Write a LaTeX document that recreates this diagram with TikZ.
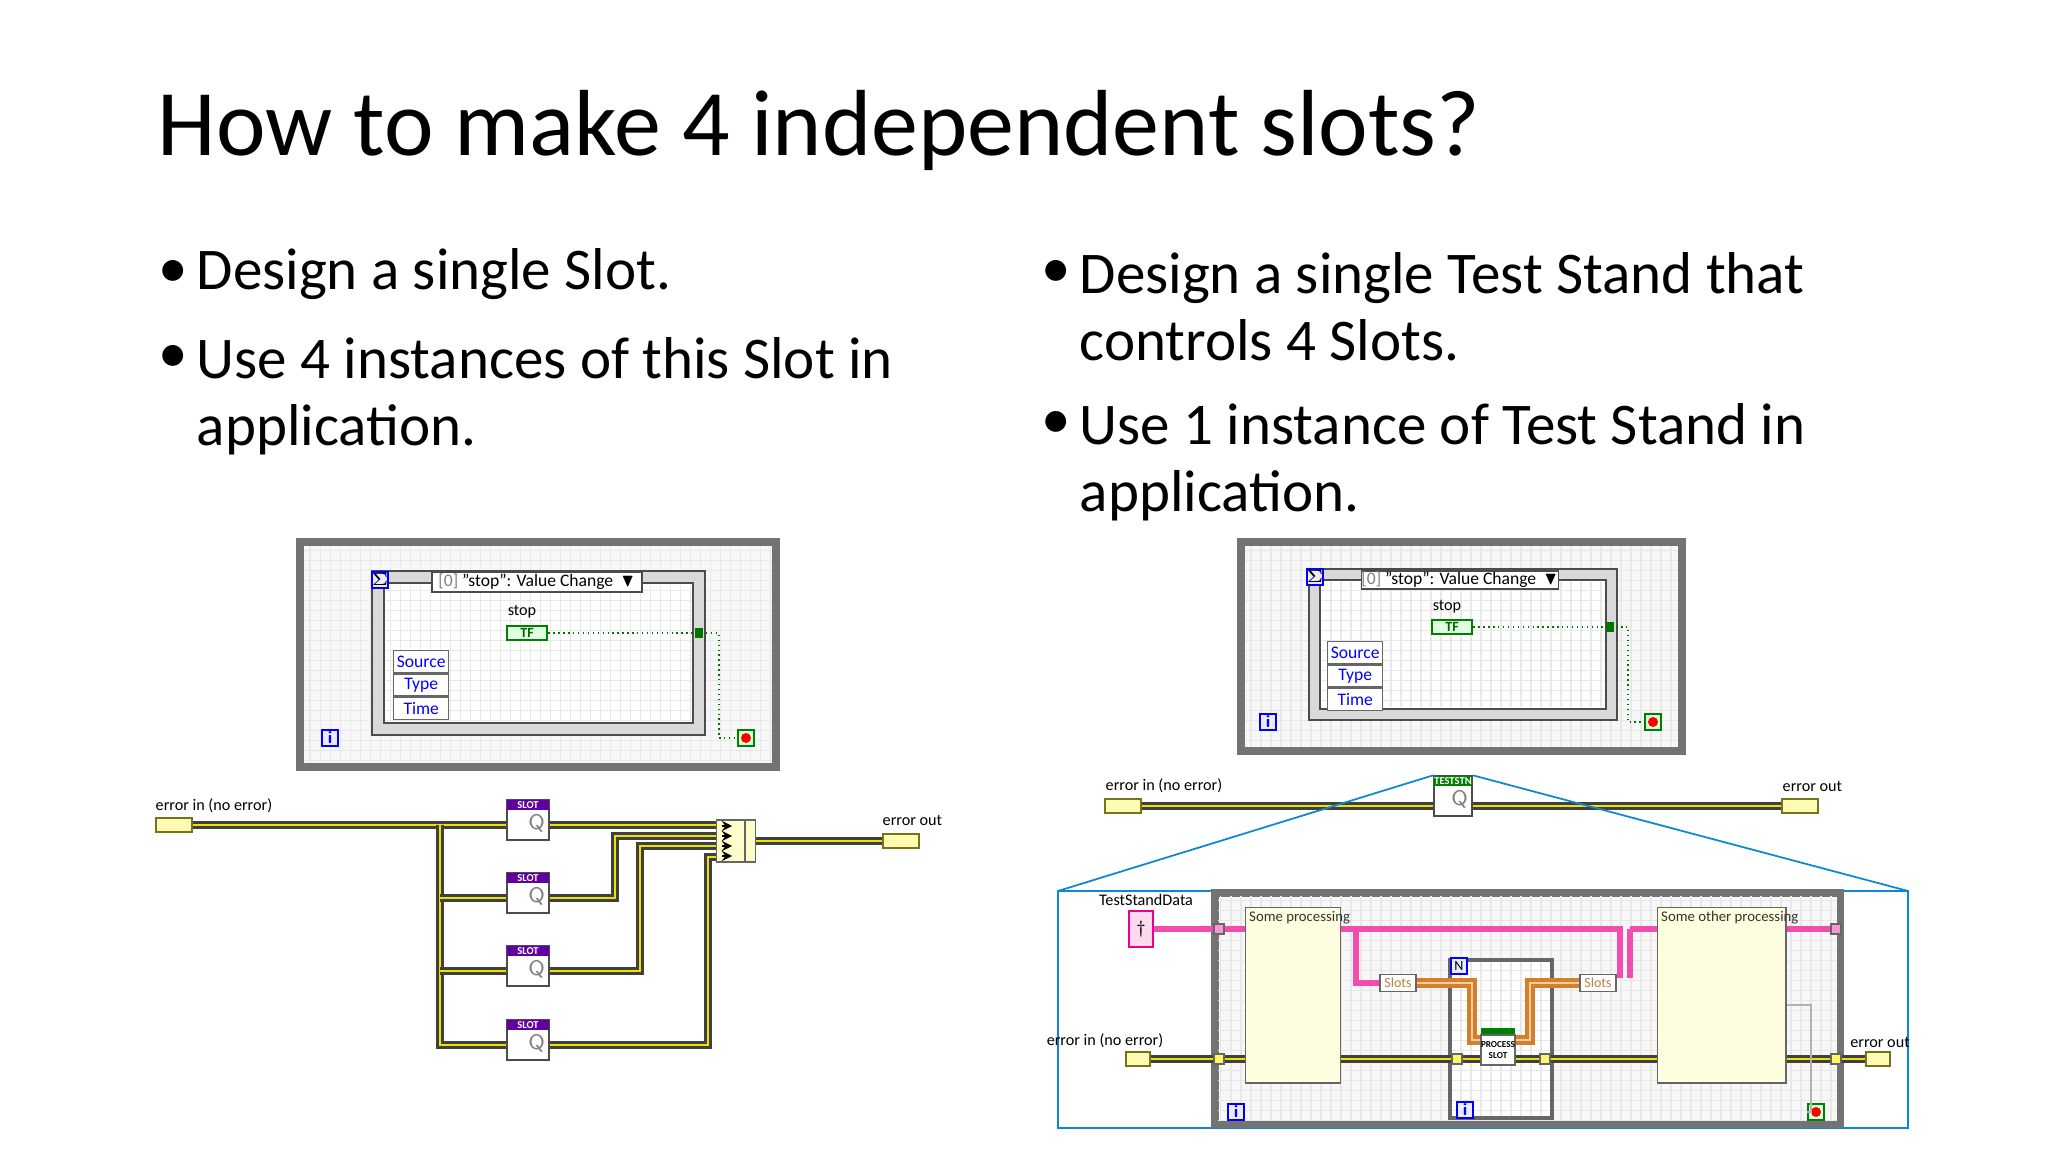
\documentclass[tikz,border=0pt]{standalone}
\usepackage{amssymb}
\usepackage{fontspec}
\setmainfont{Carlito}
\usetikzlibrary{positioning}
\tikzset{
  frame/.style={draw=black!55, line width=2.2pt, fill=gray!6},
  lbl/.style={font=\fontsize{4.6}{5.5}\selectfont, inner sep=0pt},
  errwire/.style={draw=black!75, line width=1pt, double=yellow!85!olive, double distance=0.55pt},
  pinkwire/.style={draw=magenta!70, line width=1.6pt},
  orwire/.style={draw=brown!70!orange, line width=1.3pt, double=orange!40, double distance=0.4pt},
  boolwire/.style={draw=green!45!black, densely dotted, line width=0.4pt},
  cluster/.style={draw=olive!80!black, fill=yellow!30, line width=0.6pt, minimum width=0.36cm, minimum height=0.14cm, inner sep=0pt, font=\fontsize{3}{3}\selectfont},
  slotvi/.style={draw=black!70, fill=white, minimum width=0.42cm, minimum height=0.4cm, inner sep=1pt, font=\fontsize{6}{6}\selectfont\sffamily\color{gray}, align=right, text width=0.34cm},
  slothead/.style={fill=violet!75!blue, text=white, minimum width=0.42cm, minimum height=0.1cm, inner sep=0pt, font=\fontsize{3}{3}\selectfont\bfseries},
  iter/.style={draw=blue, line width=0.6pt, fill=blue!8, minimum size=0.16cm, inner sep=0pt, font=\fontsize{5}{5}\selectfont\sffamily\bfseries\color{blue}},
  stopbtn/.style={draw=green!50!black, fill=green!15, minimum size=0.16cm, inner sep=0pt, path picture={\fill[red] (path picture bounding box.center) circle (0.05cm);}},
  tfnode/.style={draw=green!50!black, line width=0.8pt, fill=green!12, minimum width=0.4cm, minimum height=0.14cm, inner sep=0pt, font=\fontsize{4}{4}\selectfont\bfseries\color{green!40!black}},
  evlist/.style={draw=black!60, fill=white, minimum width=0.55cm, minimum height=0.22cm, inner sep=0pt, font=\fontsize{5}{5}\selectfont\color{blue}},
  procbox/.style={draw=black!60, fill=yellow!12, anchor=north west, inner sep=0pt},
  proctext/.style={anchor=north west, inner sep=1pt, font=\fontsize{4.2}{5}\selectfont\color{black!80}},
  tunnel/.style={draw=black!60, fill=#1, minimum size=0.1cm, inner sep=0pt},
  bullet/.style={anchor=west, font=\fontsize{16.8}{19}\selectfont, align=left, inner sep=0pt}
}
\begin{document}
\begin{tikzpicture}[x=0.01cm, y=-0.01cm]
\useasboundingbox (0,0) rectangle (2048,1152);
\fill[white] (0,0) rectangle (2048,1152);
% title and bullets
\node[anchor=west, font=\fontsize{26.7}{30}\selectfont, inner sep=0pt] (title) at (157,130) {How to make 4 independent slots?};
\node[bullet] (b1) at (158,274) {\textbullet};
\node[bullet] (t1) at (196,274) {Design a single Slot.};
\node[bullet] (b2) at (158,359) {\textbullet};
\node[bullet, anchor=north west] (t2) at (196,337) {Use 4 instances of this Slot in\\application.};
\node[bullet] (b3) at (1041,274) {\textbullet};
\node[bullet, anchor=north west] (t3) at (1079,252) {Design a single Test Stand that\\controls 4 Slots.};
\node[bullet] (b4) at (1041,425) {\textbullet};
\node[bullet, anchor=north west] (t4) at (1079,403) {Use 1 instance of Test Stand in\\application.};

% ---- left while loop
\draw[frame] (300,542) rectangle (776,767);
\draw[gray!18, step=0.1cm] (304,546) grid (772,763);
\fill[gray!30] (372,571) rectangle (705,735);
\draw[fill=white, draw=black!70] (384,583) rectangle (693,723);
\draw[draw=black!70] (372,571) rectangle (705,735);
\draw[gray!18, step=0.1cm] (386,585) grid (691,721);
\node[draw=black!70, fill=white, minimum width=2.1cm, minimum height=0.2cm, inner sep=0pt, font=\fontsize{5}{5}\selectfont] (hdrL) at (537,582) {{\color{gray}[0]} "stop": Value Change \,$\blacktriangledown$};
\node[iter, font=\fontsize{4}{4}\selectfont] (hgL) at (380,580) {$\Sigma$};
\node[lbl] (stopL) at (522,612) {stop};
\node[tfnode] (tfL) at (527,633) {TF};
\node[evlist, anchor=north west] (srcL) at (393,650) {Source};
\node[evlist, below=0pt of srcL] (typL) {Type};
\node[evlist, below=0pt of typL] (timL) {Time};
\fill[green!45!black] (695,628) rectangle (703,638);
\coordinate (termL) at (699,633);
\node[iter] (iL) at (330,738) {i};
\node[stopbtn] (sbL) at (746,738) {};
\draw[boolwire] (tfL.east) -- (termL) -- (719,633) |- (sbL.west);

% ---- left error chain
\node[lbl, anchor=west] (einL) at (155,806) {error in (no error)};
\node[cluster] (ecinL) at (174,825) {};
\node[slotvi] (s1) at (528,820) {\\Q};
\node[slotvi] (s2) at (528,893) {\\Q};
\node[slotvi] (s3) at (528,966) {\\Q};
\node[slotvi] (s4) at (528,1040) {\\Q};
\foreach \s in {s1,s2,s3,s4}
  \node[slothead, anchor=north] at (\s.north) {SLOT};
\node[draw=black!60, fill=yellow!20, minimum width=0.39cm, minimum height=0.42cm, inner sep=0pt] (merge) at (736,841) {};
\node[cluster] (ecoutL) at (901,841) {};
\node[lbl, anchor=west] (eoutL) at (882,820) {error out};
\coordinate (jL) at (440,825);
\draw[errwire] (ecinL.east) -- (s1.west |- jL);
\draw[errwire] (jL) |- (s4.west |- 0,1045);
\draw[errwire] (jL |- 0,898) -- (s2.west |- 0,898);
\draw[errwire] (jL |- 0,971) -- (s3.west |- 0,971);
\draw[errwire] (s1.east |- 0,825) -- (merge.west |- 0,825);
\draw[errwire] (s2.east |- 0,898) -| (615,836) -- (merge.west |- 0,836);
\draw[errwire] (s3.east |- 0,971) -| (640,846) -- (merge.west |- 0,846);
\draw[errwire] (s4.east |- 0,1045) -| (708,857) -- (merge.west |- 0,857);
\draw[errwire] (merge.east) -- (ecoutL.west);
\foreach \y in {826,836,846,856} \draw[black, line width=0.3pt, -stealth] (722,\y) -- (732,\y);
\draw[black!60] (745,821) -- (745,862);

% ---- right while loop
\draw[frame] (1241,542) rectangle (1682,751);
\draw[gray!18, step=0.1cm] (1245,546) grid (1678,747);
\fill[gray!30] (1309,569) rectangle (1617,720);
\draw[fill=white, draw=black!70] (1320,580) rectangle (1606,709);
\draw[draw=black!70] (1309,569) rectangle (1617,720);
\draw[gray!18, step=0.1cm] (1322,582) grid (1604,707);
\node[draw=black!70, fill=white, minimum width=1.95cm, minimum height=0.18cm, inner sep=0pt, font=\fontsize{5}{5}\selectfont] (hdrR) at (1460,580) {{\color{gray}[0]} "stop": Value Change \,$\blacktriangledown$};
\node[iter, font=\fontsize{4}{4}\selectfont] (hgR) at (1315,577) {$\Sigma$};
\node[lbl] (stopR) at (1447,607) {stop};
\node[tfnode] (tfR) at (1452,627) {TF};
\node[evlist, anchor=north west] (srcR) at (1327,641) {Source};
\node[evlist, below=0pt of srcR] (typR) {Type};
\node[evlist, below=0pt of typR] (timR) {Time};
\fill[green!45!black] (1606,622) rectangle (1614,632);
\coordinate (termR) at (1610,627);
\node[iter] (iR) at (1268,722) {i};
\node[stopbtn] (sbR) at (1653,722) {};
\draw[boolwire] (tfR.east) -- (termR) -- (1628,627) |- (sbR.west);

% ---- right error chain
\node[lbl, anchor=west] (einR) at (1105,786) {error in (no error)};
\node[cluster] (ecinR) at (1123,806) {};
\node[slotvi, minimum width=0.38cm, text width=0.3cm] (ts) at (1453,796) {\\Q};
\node[slothead, anchor=north, fill=green!50!black, minimum width=0.38cm] (tsh) at (ts.north) {TESTSTN};
\node[cluster] (ecoutR) at (1800,806) {};
\node[lbl, anchor=west] (eoutR) at (1782,786) {error out};
\draw[errwire] (ecinR.east) -- (ts.west |- ecinR);
\draw[errwire] (ts.east |- ecoutR) -- (ecoutR.west);
\coordinate (zl) at (1058,891);
\coordinate (zr) at (1908,891);
\draw[cyan!70!blue, line width=0.5pt] (zl) -- (ts.north west) (ts.north east) -- (zr);
\draw[cyan!70!blue, line width=0.7pt] (zl) rectangle (1908,1128);

% ---- zoomed test stand
\draw[draw=black!55, line width=2pt, fill=gray!6] (1215,893) rectangle (1840,1124);
\draw[gray!18, step=0.1cm] (1218,896) grid (1837,1121);
\node[procbox, minimum width=0.95cm, minimum height=1.75cm] (proc1) at (1245,907) {};
\node[proctext] (pt1t) at (proc1.north west) {Some processing};
\node[procbox, minimum width=1.28cm, minimum height=1.75cm] (proc2) at (1657,907) {};
\node[proctext] (pt2t) at (proc2.north west) {Some other processing};
\node[lbl, anchor=south] (tsdl) at (1146,906) {TestStandData};
\node[draw=magenta, fill=magenta!15, minimum width=0.24cm, minimum height=0.36cm, inner sep=0pt, font=\fontsize{4}{4}\selectfont] (tsd) at (1141,929) {$\dagger$};
\node[tunnel=magenta!40] (pt1) at (1219,929) {};
\node[tunnel=magenta!40] (pt2) at (1836,929) {};
\node[draw=black!60, fill=white, minimum width=0.36cm, minimum height=0.17cm, inner sep=0pt, font=\fontsize{4}{4}\selectfont\color{brown}] (unb) at (1398,983) {Slots};
\node[draw=black!60, fill=white, minimum width=0.36cm, minimum height=0.17cm, inner sep=0pt, font=\fontsize{4}{4}\selectfont\color{brown}] (bun) at (1598,983) {Slots};
\draw[draw=black!60, fill=white, line width=1.2pt] (1450,960) rectangle (1552,1118);
\draw[gray!18, step=0.1cm] (1452,962) grid (1550,1116);
\node[iter, font=\fontsize{4}{4}\selectfont] (nN) at (1459,966) {N};
\node[iter] (iF) at (1465,1110) {i};
\node[draw=black!60, fill=white, minimum width=0.34cm, minimum height=0.3cm, inner sep=0pt, font=\fontsize{2.6}{3}\selectfont\bfseries, align=center] (procsl) at (1498,1050) {PROCESS\\SLOT};
\node[fill=green!50!black, minimum width=0.34cm, minimum height=0.06cm, inner sep=0pt, anchor=south] at (procsl.north) {};
\node[iter] (iZ) at (1236,1112) {i};
\node[stopbtn] (sbZ) at (1816,1112) {};
\node[lbl, anchor=south] (einZ) at (1105,1048) {error in (no error)};
\node[cluster, minimum width=0.24cm] (ecinZ) at (1138,1059) {};
\node[lbl, anchor=south] (eoutZ) at (1880,1048) {error out};
\node[cluster, minimum width=0.24cm] (ecoutZ) at (1878,1059) {};
\node[tunnel=yellow!60] (et1) at (1219,1059) {};
\node[tunnel=yellow!60] (et2) at (1836,1059) {};
\node[tunnel=yellow!60] (et3) at (1457,1059) {};
\node[tunnel=yellow!60] (et4) at (1545,1059) {};
% pink wires
\draw[pinkwire] (tsd.east) -- (pt1.west);
\draw[pinkwire] (pt1.east) -- (proc1.west |- pt1);
\draw[pinkwire] (proc1.east |- pt1) -- (1620,929) -- (1620,978);
\draw[pinkwire] (1356,929) |- (unb.west);
\draw[pinkwire] (1630,929) -- (1630,978);
\draw[pinkwire] (1630,929) -- (proc2.west |- pt1);
\draw[pinkwire] (proc2.east |- pt2) -- (pt2.west);
% orange wires
\draw[orwire] (unb.east) -- (1457,983) -- (1472,983) |- (procsl.west |- 0,1040);
\draw[orwire] (procsl.east |- 0,1040) -- (1530,1040) |- (bun.west);
% error wires
\draw[errwire] (ecinZ.east) -- (et1.west);
\draw[errwire] (et1.east) -- (proc1.west |- et1);
\draw[errwire] (proc1.east |- et1) -- (et3.west);
\draw[errwire] (et3.east) -- (procsl.west |- et3);
\draw[errwire] (procsl.east |- et4) -- (et4.west);
\draw[errwire] (et4.east) -- (proc2.west |- et4);
\draw[errwire] (proc2.east |- et2) -- (et2.west);
\draw[errwire] (et2.east) -- (ecoutZ.west);
\draw[gray!60, line width=0.3pt] (proc2.east |- 0,1005) -- (1811,1005) |- (sbZ.west);
\end{tikzpicture}
\end{document}
